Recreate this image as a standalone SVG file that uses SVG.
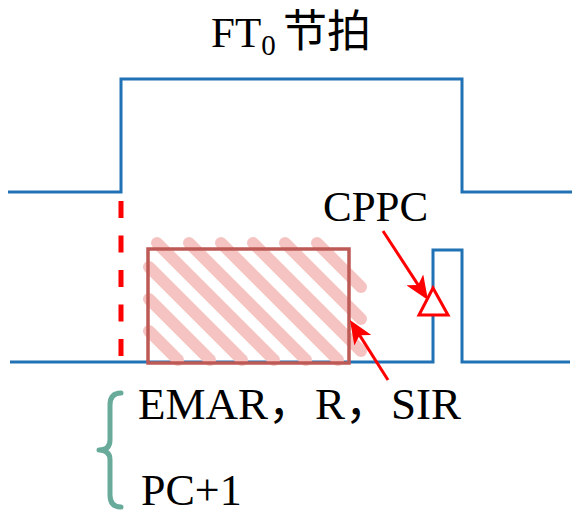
<svg xmlns="http://www.w3.org/2000/svg" width="585" height="518" viewBox="0 0 585 518">
<style>
.wave{fill:none;stroke:#2171B5;stroke-width:3;stroke-linejoin:miter}
.hatch line{stroke:#F5C4C2;stroke-width:12;stroke-linecap:round}
.arrow{stroke:#FF0000;stroke-width:3;fill:none}
.t{font-family:"Liberation Serif","Noto Sans CJK SC",serif;fill:#000}
.cjk{font-family:"Noto Sans CJK SC",sans-serif}
</style>
<defs>
<marker id="ah" viewBox="0 0 24 20" refX="14" refY="10" markerWidth="24" markerHeight="20" markerUnits="userSpaceOnUse" orient="auto">
<path d="M0,0 L24,10 L0,20 L6,10 z" fill="#FF0000"/>
</marker>
</defs>
<g id="title">
<text class="t" font-size="43" x="211" y="47">FT<tspan font-size="29" dy="8">0</tspan><tspan class="cjk" font-size="44" x="283" dy="-8">节拍</tspan></text>
</g>
<g id="ft-wave">
<polyline class="wave" points="8,192 121,192 121,79 462,79 462,192 572,192"/>
</g>
<g id="cppc-wave">
<polyline class="wave" points="10,362 433,362 433,250 462,250 462,362 570,362"/>
</g>
<g id="start-marker">
<line x1="121" y1="201" x2="121" y2="358" stroke="#FF0000" stroke-width="5" stroke-dasharray="17 17.5"/>
</g>
<g id="sir-box">
<g class="hatch">
<line x1="149" y1="331" x2="178" y2="360"/>
<line x1="149" y1="299" x2="210" y2="360"/>
<line x1="149" y1="267" x2="242" y2="360"/>
<line x1="157" y1="243" x2="274" y2="360"/>
<line x1="189" y1="243" x2="306" y2="360"/>
<line x1="221" y1="243" x2="338" y2="360"/>
<line x1="253" y1="243" x2="361" y2="351"/>
<line x1="285" y1="243" x2="361" y2="319"/>
<line x1="317" y1="243" x2="361" y2="287"/>
</g>
<rect x="148" y="249" width="201" height="114" fill="none" stroke="#BE5A55" stroke-width="3.5"/>
</g>
<g id="cppc-triangle">
<polygon points="433,288 419,315 448,315" fill="#FFFFFF" stroke="#FF0000" stroke-width="3" stroke-linejoin="miter"/>
</g>
<g id="connectors">
<line class="arrow" x1="383" y1="231" x2="422.5" y2="291.6" marker-end="url(#ah)"/>
<line class="arrow" x1="388" y1="380" x2="355.3" y2="328.4" marker-end="url(#ah)"/>
</g>
<g id="label-cppc">
<text class="t" font-size="43" x="323" y="221">CPPC</text>
</g>
<g id="label-ops">
<path d="M121,393 Q110,393 110,405 L110,440 Q110,450 99,450 Q110,450 110,460 L110,495 Q110,507 121,507" fill="none" stroke="#68AB9B" stroke-width="5" stroke-linecap="round" stroke-linejoin="round"/>
<text class="t" font-size="45" x="138" y="419">EMAR，<tspan x="315">R，</tspan><tspan x="391">SIR</tspan></text>
<text class="t" font-size="44" x="141" y="505">PC+1</text>
</g>
</svg>
